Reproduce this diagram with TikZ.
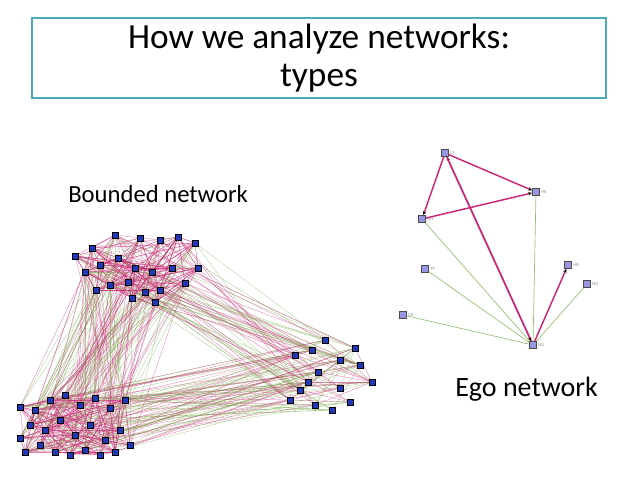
\documentclass[tikz,border=0pt]{standalone}
\usepackage{fontspec}
\setmainfont{Carlito}
\usetikzlibrary{backgrounds,arrows.meta}
\definecolor{teal1}{RGB}{75,170,190}
\definecolor{pinkE}{RGB}{205,40,120}
\definecolor{greenE}{RGB}{120,175,80}
\definecolor{egoF}{RGB}{150,150,225}
\definecolor{bnode}{RGB}{35,55,185}
\tikzset{
 bn/.style={draw=black,fill=bnode,minimum size=4.2pt,inner sep=0pt,rectangle,line width=0.4pt},
 en/.style={draw=black!70,fill=egoF,minimum size=5.5pt,inner sep=0pt,rectangle,line width=0.3pt},
 elab/.style={font=\fontsize{3.5}{4}\selectfont,text=black!45,anchor=west,inner sep=1pt},
 pe/.style={draw=pinkE,line width=0.25pt,opacity=0.6},
 ge/.style={draw=greenE,line width=0.25pt,opacity=0.6},
 strong/.style={draw=pinkE,line width=1.1pt,-{Stealth[length=3pt,width=2.5pt,color=black]}},
 weak/.style={draw=greenE!80,line width=0.5pt},
}
\begin{document}
\begin{tikzpicture}[x=0.75pt,y=-0.75pt]
\useasboundingbox (0,0) rectangle (638,478);
\node[draw=teal1,line width=1pt,minimum width=574*0.75pt,minimum height=80*0.75pt,align=center,font=\fontsize{26.5}{29}\selectfont] (title) at (319,58) {How we analyze networks:\\types};
\node[font=\fontsize{18.5}{21}\selectfont,anchor=west,inner sep=0pt] (bl) at (68,194) {Bounded network};
\node[font=\fontsize{21}{24}\selectfont,anchor=west,inner sep=0pt] (el) at (455,389) {Ego network};
% bounded network
\foreach \p [count=\i] in {(115,235),(140,238),(160,240),(178,237),(195,243),(75,256),(92,248),(100,265),(118,258),(135,268),(152,272),(172,268),(198,268),(85,272),(110,285),(128,282),(145,292),(160,290),(185,283),(96,290),(132,298),(155,302),
(20,407),(35,410),(50,400),(65,395),(80,405),(95,398),(110,408),(125,400),(30,425),(45,430),(60,420),(75,435),(90,425),(105,440),(120,430),(20,438),(40,445),(55,452),(70,455),(85,450),(100,455),(115,452),(130,445),(25,452),
(295,355),(312,350),(325,340),(340,360),(355,348),(372,382),(360,365),(318,372),(300,390),(290,400),(315,405),(332,410),(350,402),(340,388),(308,382)}
 \node[bn] (b\i) at \p {};
\begin{scope}[on background layer]
\pgfmathsetseed{7}
\foreach \k in {1,...,420}{
 \pgfmathrandominteger{\a}{1}{61}
 \pgfmathrandominteger{\b}{1}{61}
 \pgfmathrandominteger{\c}{0}{1}
 \ifnum\c=0 \draw[pe] (b\a) -- (b\b);\else \draw[ge] (b\a) -- (b\b);\fi
}
\pgfmathsetseed{11}
\foreach \k in {1,...,150}{
 \pgfmathrandominteger{\a}{1}{22}
 \pgfmathrandominteger{\b}{1}{22}
 \draw[pe] (b\a) -- (b\b);
 \pgfmathrandominteger{\a}{23}{46}
 \pgfmathrandominteger{\b}{23}{46}
 \draw[pe] (b\a) -- (b\b);
}
\end{scope}
% ego network
\node[en] (LY) at (445,153) {}; \node[elab] at (LY.east) {LY};
\node[en] (HE) at (536,192) {}; \node[elab] at (HE.east) {HE};
\node[en] (GH) at (422,219) {}; \node[elab] at (GH.east) {GH};
\node[en] (TP) at (425,269) {}; \node[elab] at (TP.east) {TP};
\node[en] (CE) at (403,315) {}; \node[elab] at (CE.east) {CE};
\node[en] (HR) at (568,265) {}; \node[elab] at (HR.east) {HR};
\node[en] (NO) at (587,284) {}; \node[elab] at (NO.east) {NO};
\node[en] (NG) at (533,345) {}; \node[elab] at (NG.east) {NG};
\begin{scope}[on background layer]
\draw[weak] (GH) -- (NG); \draw[weak] (TP) -- (NG); \draw[weak] (CE) -- (NG);
\draw[weak] (NO) -- (NG); \draw[weak] (HE) -- (NG);
\end{scope}
\draw[strong] (LY) -- (HE);
\draw[strong] (LY) -- (GH);
\draw[strong] (GH) -- (HE);
\draw[strong] (NG) -- (LY);
\draw[strong] (LY) -- (NG);
\draw[strong] (NG) -- (HR);
\end{tikzpicture}
\end{document}
